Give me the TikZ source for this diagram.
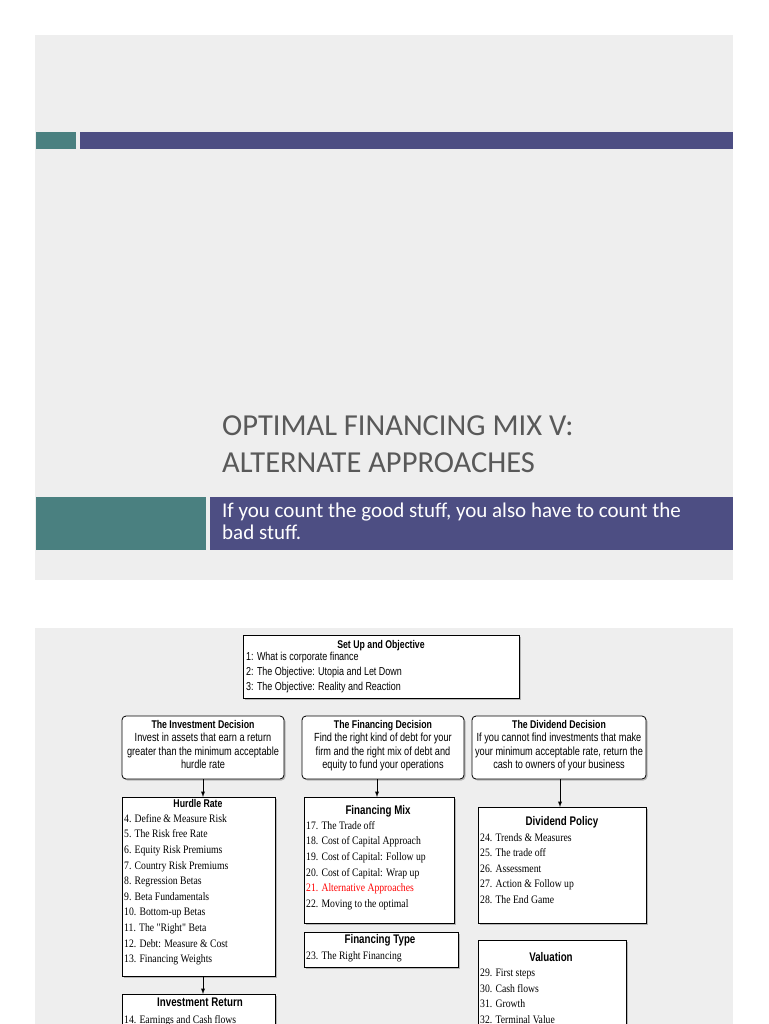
\documentclass[tikz,border=0pt]{standalone}
\usepackage{fontspec}
\setmainfont{Carlito}
\newfontfamily\nsans[FakeStretch=0.78]{Liberation Sans}
\newfontfamily\nserif[FakeStretch=0.85]{Liberation Serif}
\usetikzlibrary{shadows}
\definecolor{teal}{HTML}{4A8080}
\definecolor{purp}{HTML}{4D4E83}
\definecolor{slide}{HTML}{EEEEEE}
\definecolor{titlec}{HTML}{595959}
\tikzset{
 x=1pt,y=-1pt,
 sq/.style={draw=black,line width=0.8pt,fill=white,drop shadow={shadow xshift=1.5pt,shadow yshift=-1.5pt,opacity=0.5}},
 rbox/.style={sq,rounded corners=4pt},
 hd/.style={font=\nsans\bfseries\fontsize{11.2}{12}\selectfont,inner sep=0pt,anchor=north},
 hdb/.style={hd,font=\nsans\bfseries\fontsize{12.5}{13}\selectfont},
 sl/.style={font=\nsans\fontsize{11.8}{13.5}\selectfont,inner sep=0pt,align=center,anchor=north},
 ll/.style={font=\nsans\fontsize{11.5}{15}\selectfont,inner sep=0pt,align=left,anchor=north west},
 sr/.style={font=\nserif\fontsize{11.4}{15.6}\selectfont,inner sep=0pt,align=left,anchor=north west},
 arr/.style={-latex,line width=0.9pt}
}
\begin{document}
\begin{tikzpicture}
\useasboundingbox (0,0) rectangle (768,1024);
\fill[white] (0,0) rectangle (768,1024);
% slide 1
\fill[slide] (35,35) rectangle (733,580);
\fill[teal] (36,132) rectangle (76,149);
\fill[purp] (80,132) rectangle (733,149);
\node[anchor=west,inner sep=0pt,text=titlec,font=\fontsize{30.5}{37}\selectfont,align=left] (title) at (222,444) {OPTIMAL FINANCING MIX V:\\ALTERNATE APPROACHES};
\fill[teal] (36,497) rectangle (206,550);
\fill[purp] (210,497) rectangle (733,550);
\node[anchor=north west,inner sep=0pt,text=white,font=\fontsize{21}{22}\selectfont,align=left] (sub) at (222,503) {If you count the good stuff, you also have to count the\\bad stuff.};
% slide 2
\fill[slide] (35,628) rectangle (733,1024);
\draw[sq] (243,635) rectangle (519,698);
\node[hd] (setupH) at (381,640) {Set Up and Objective};
\node[ll] (setupL) at (246,652) {1: What is corporate finance\\2: The Objective: Utopia and Let Down\\3: The Objective: Reality and Reaction};

\draw[rbox] (122,716) rectangle (284,779);
\coordinate (invT) at (203,779);
\node[hd] (invH) at (203,720) {The Investment Decision};
\node[sl] (invL) at (203,733) {Invest in assets that earn a return\\greater than the minimum acceptable\\hurdle rate};

\draw[rbox] (302,716) rectangle (464,779);
\coordinate (finT) at (377,779);
\node[hd] (finH) at (383,720) {The Financing Decision};
\node[sl] (finL) at (383,733) {Find the right kind of debt for your\\firm and the right mix of debt and\\equity to fund your operations};

\draw[rbox] (472,716) rectangle (646,779);
\coordinate (divT) at (560,779);
\node[hd] (divH) at (559,720) {The Dividend Decision};
\node[sl] (divL) at (559,733) {If you cannot find investments that make\\your minimum acceptable rate, return the\\cash to owners of your business};

\draw[sq] (122,797) rectangle (275,976);
\coordinate (hurT) at (203,797);
\coordinate (hurB) at (203,976);
\node[hd] (hurH) at (198,799) {Hurdle Rate};
\node[sr] (hurL) at (124,814) {4. Define \& Measure Risk\\5. The Risk free Rate\\6. Equity Risk Premiums\\7. Country Risk Premiums\\8. Regression Betas\\9. Beta Fundamentals\\10. Bottom-up Betas\\11. The "Right" Beta\\12. Debt: Measure \& Cost\\13. Financing Weights};

\draw[sq] (304,797) rectangle (454,923);
\coordinate (mixT) at (377,797);
\node[hdb] (mixH) at (378,805) {Financing Mix};
\node[sr] (mixL) at (306,821) {17. The Trade off\\18. Cost of Capital Approach\\19. Cost of Capital: Follow up\\20. Cost of Capital: Wrap up\\\textcolor{red}{21. Alternative Approaches}\\22. Moving to the optimal};

\draw[sq] (304,932) rectangle (458,967);
\node[hdb] (typH) at (380,934) {Financing Type};
\node[sr] (typL) at (306,951) {23. The Right Financing};

\draw[sq] (478,807) rectangle (646,923);
\coordinate (polT) at (560,807);
\node[hdb] (polH) at (562,816) {Dividend Policy};
\node[sr] (polL) at (480,833) {24. Trends \& Measures\\25. The trade off\\26. Assessment\\27. Action \& Follow up\\28. The End Game};

\draw[sq] (478,940) rectangle (626,1030);
\node[hdb] (valH) at (551,952) {Valuation};
\node[sr] (valL) at (480,969) {29. First steps\\30. Cash flows\\31. Growth\\32. Terminal Value};

\draw[sq] (122,994) rectangle (275,1030);
\coordinate (retT) at (203,994);
\node[hdb] (retH) at (200,998) {Investment Return};
\node[sr] (retL) at (124,1015) {14. Earnings and Cash flows};

\draw[arr] (invT) -- (hurT);
\draw[arr] (finT) -- (mixT);
\draw[arr] (divT) -- (polT);
\draw[arr] (hurB) -- (retT);
\end{tikzpicture}
\end{document}
